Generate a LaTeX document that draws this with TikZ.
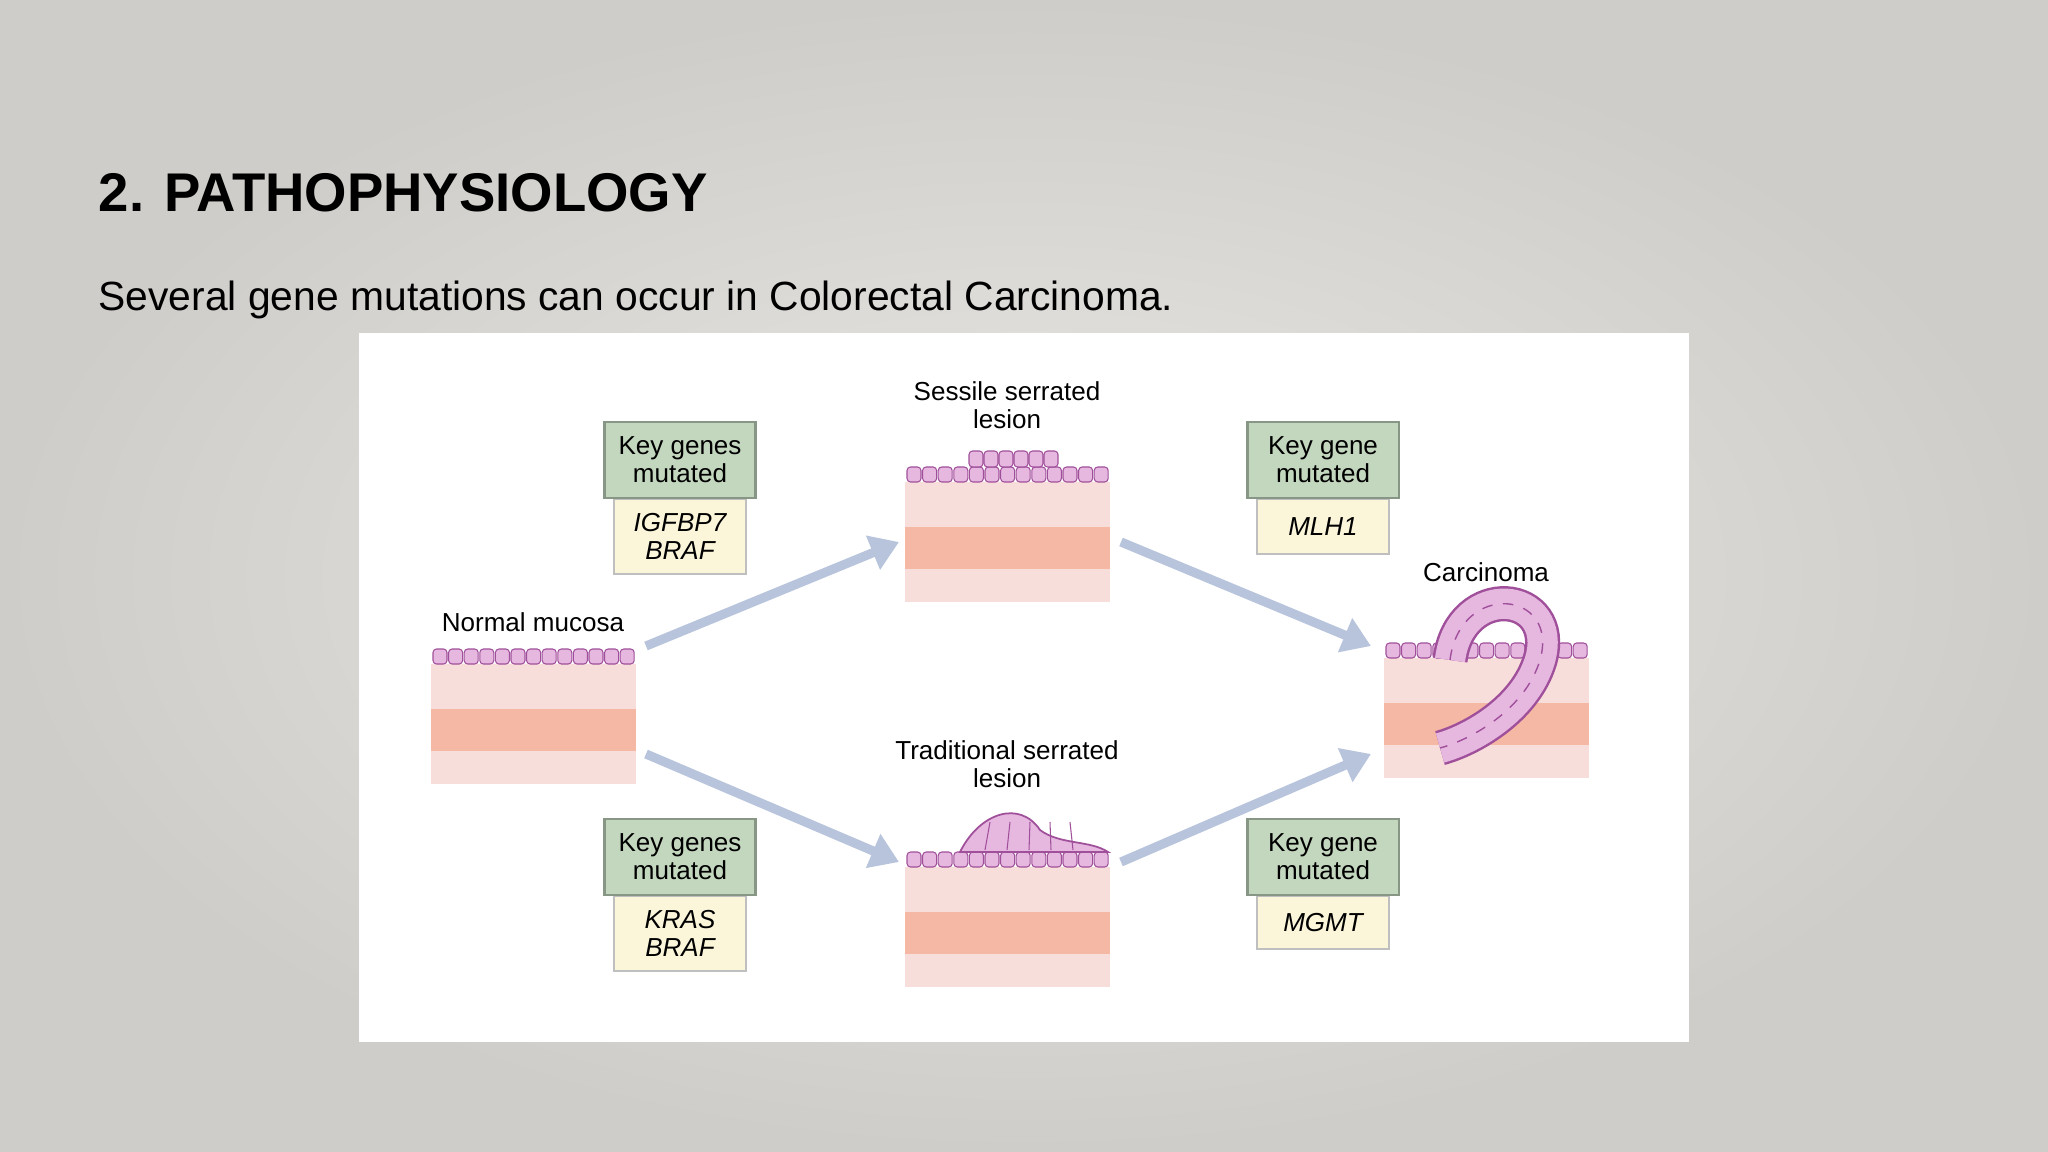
\documentclass[tikz,border=0pt]{standalone}
\usepackage{fontspec}
\setmainfont{Liberation Sans}
\usetikzlibrary{positioning, arrows.meta}
\definecolor{bgin}{HTML}{E9E8E5}
\definecolor{bgout}{HTML}{CFCDC9}
\definecolor{cellc}{HTML}{E6B8E0}
\definecolor{celld}{HTML}{A0509A}
\definecolor{pinkl}{HTML}{F7DEDA}
\definecolor{salmon}{HTML}{F4B8A4}
\definecolor{keyg}{HTML}{C3D6BE}
\definecolor{cream}{HTML}{FBF5DA}
\definecolor{arr}{HTML}{B8C4DC}
\begin{document}
\begin{tikzpicture}[x=0.01cm, y=-0.01cm,
	lbl/.style = {font=\fontsize{7.4}{8}\selectfont, align=center, inner sep=0pt},
	hdr/.style = {shape=rectangle, fill=keyg, draw=keyg!70!black, line width=0.6pt, minimum width=1.51cm, minimum height=0.76cm, font=\fontsize{7.4}{8}\selectfont, align=center, inner sep=0pt},
	gen/.style = {shape=rectangle, fill=cream, draw=black!25, line width=0.4pt, minimum width=1.32cm, font=\fontsize{7.4}{8}\selectfont\itshape, align=center, inner sep=0pt},
	flow/.style = {draw=arr, line width=2.6pt, -{Triangle[length=8pt, width=10pt]}},
	]
\useasboundingbox (0,0) rectangle (2048,1152);
\shade[inner color=bgin, outer color=bgout] (0,0) rectangle (2048,1152);
\node[anchor=west, font=\fontsize{15.5}{18}\selectfont\bfseries, inner sep=0pt] (ttl) at (98,193) {2. PATHOPHYSIOLOGY};
\node[anchor=west, font=\fontsize{11.6}{14}\selectfont, inner sep=0pt] (sub) at (98,300) {Several gene mutations can occur in Colorectal Carcinoma.};
\fill[white] (359,333) rectangle (1689,1042);
% tissue blocks
\foreach \nm/\x/\y in {nrm/431/646, ssl/905/464, tsl/905/849, car/1384/640} {
	\fill[pinkl] (\x,\y+18) rectangle (\x+205,\y+138);
	\fill[salmon] (\x,\y+63) rectangle (\x+205,\y+105);
	\foreach \i in {0,...,12}
		\draw[fill=cellc, draw=celld, line width=0.3pt, rounded corners=1pt] (\x+2+\i*15.6,\y+3) rectangle +(14,15);
	\coordinate (\nm) at (\x+102,\y+70);
}
% raised cells
\foreach \i in {0,...,5}
	\draw[fill=cellc, draw=celld, line width=0.3pt, rounded corners=1pt] (969+\i*15,451) rectangle +(14,16);
\draw[fill=cellc, draw=celld, line width=0.5pt] (960,852) .. controls (980,812) and (1020,800) .. (1040,830) .. controls (1060,845) and (1090,840) .. (1108,852) -- cycle;
\foreach \i in {0,...,4}
	\draw[celld, line width=0.3pt] (985+\i*22,850) -- (990+\i*20,822);
% carcinoma tube
\draw[celld, line width=10pt] (1450,660) .. controls (1460,580) and (1560,590) .. (1540,660) .. controls (1525,710) and (1470,740) .. (1440,748);
\draw[cellc, line width=8.6pt] (1450,660) .. controls (1460,580) and (1560,590) .. (1540,660) .. controls (1525,710) and (1470,740) .. (1440,748);
\draw[celld, line width=0.4pt, dashed] (1450,660) .. controls (1460,580) and (1560,590) .. (1540,660) .. controls (1525,710) and (1470,740) .. (1440,748);
% labels
\node[lbl] (lnrm) at (533,622) {Normal mucosa};
\node[lbl] (lssl) at (1007,405) {Sessile serrated\\lesion};
\node[lbl] (ltsl) at (1007,764) {Traditional serrated\\lesion};
\node[lbl] (lcar) at (1486,572) {Carcinoma};
% key genes
\node[hdr] (h1) at (680,460) {Key genes\\mutated};
\node[gen, minimum height=0.74cm, below=0pt of h1] (g1) {IGFBP7\\BRAF};
\node[hdr] (h2) at (1323,460) {Key gene\\mutated};
\node[gen, minimum height=0.54cm, below=0pt of h2] (g2) {MLH1};
\node[hdr] (h3) at (680,857) {Key genes\\mutated};
\node[gen, minimum height=0.74cm, below=0pt of h3] (g3) {KRAS\\BRAF};
\node[hdr] (h4) at (1323,857) {Key gene\\mutated};
\node[gen, minimum height=0.52cm, below=0pt of h4] (g4) {MGMT};
% arrows
\coordinate (a1) at (646,646); \coordinate (b1) at (899,542);
\coordinate (a2) at (1121,542); \coordinate (b2) at (1371,646);
\coordinate (a3) at (646,754); \coordinate (b3) at (899,862);
\coordinate (a4) at (1121,862); \coordinate (b4) at (1371,754);
\draw[flow] (a1) -- (b1);
\draw[flow] (a2) -- (b2);
\draw[flow] (a3) -- (b3);
\draw[flow] (a4) -- (b4);
\end{tikzpicture}
\end{document}
